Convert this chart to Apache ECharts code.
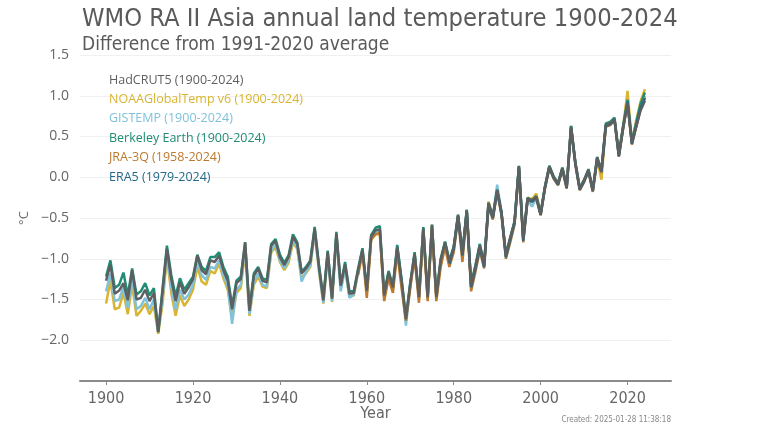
<!DOCTYPE html>
<html>
<head>
<meta charset="utf-8">
<script src="https://cdn.jsdelivr.net/npm/echarts@6/dist/echarts.min.js"></script>
<style>
html, body { margin: 0; padding: 0; background: #fff; }
#main { width: 768px; height: 445px; }
</style>
</head>
<body>
<div id="main"></div>
<script>
// annual anomalies vs 1991-2020
var hadcrut5 = [
  -1.27, -1.07, -1.43, -1.39, -1.30, -1.51, -1.14, -1.50, -1.48, -1.38,
  -1.52, -1.42, -1.90, -1.40, -0.88, -1.25, -1.52, -1.29, -1.43, -1.35,
  -1.25, -0.96, -1.14, -1.19, -1.02, -1.04, -0.96, -1.14, -1.27, -1.62,
  -1.30, -1.25, -0.80, -1.64, -1.21, -1.12, -1.27, -1.29, -0.84, -0.78,
  -0.98, -1.08, -0.98, -0.73, -0.82, -1.18, -1.12, -1.04, -0.63, -1.10,
  -1.51, -0.92, -1.49, -0.69, -1.33, -1.07, -1.43, -1.42, -1.14, -0.89,
  -1.39, -0.73, -0.65, -0.64, -1.45, -1.17, -1.35, -0.86, -1.27, -1.74,
  -1.31, -0.94, -1.47, -0.63, -1.47, -0.59, -1.47, -1.02, -0.80, -1.04,
  -0.86, -0.47, -0.94, -0.41, -1.33, -1.10, -0.84, -1.08, -0.32, -0.49,
  -0.16, -0.44, -0.96, -0.75, -0.55, 0.13, -0.76, -0.26, -0.28, -0.24,
  -0.45, -0.12, 0.13, 0.00, -0.08, 0.11, -0.12, 0.62, 0.17, -0.14,
  -0.04, 0.09, -0.16, 0.24, 0.08, 0.64, 0.66, 0.71, 0.27, 0.62,
  0.91, 0.42, 0.62, 0.82, 0.94
];
var noaa = [
  -1.55, -1.27, -1.62, -1.60, -1.42, -1.68, -1.32, -1.70, -1.64, -1.55,
  -1.68, -1.58, -1.92, -1.55, -0.98, -1.42, -1.70, -1.45, -1.58, -1.50,
  -1.38, -1.10, -1.28, -1.32, -1.15, -1.18, -1.06, -1.24, -1.38, -1.72,
  -1.42, -1.36, -0.90, -1.70, -1.32, -1.22, -1.34, -1.36, -0.92, -0.86,
  -1.04, -1.14, -1.05, -0.80, -0.88, -1.24, -1.18, -1.10, -0.68, -1.16,
  -1.55, -0.96, -1.53, -0.73, -1.36, -1.10, -1.47, -1.45, -1.16, -0.91,
  -1.40, -0.77, -0.70, -0.70, -1.48, -1.19, -1.36, -0.88, -1.28, -1.76,
  -1.33, -0.96, -1.49, -0.62, -1.49, -0.58, -1.48, -1.03, -0.80, -1.05,
  -0.86, -0.46, -0.95, -0.40, -1.34, -1.11, -0.85, -1.08, -0.30, -0.48,
  -0.15, -0.44, -0.96, -0.74, -0.56, 0.13, -0.75, -0.25, -0.27, -0.20,
  -0.44, -0.12, 0.14, 0.00, -0.08, 0.12, -0.11, 0.62, 0.18, -0.14,
  -0.05, 0.09, -0.16, 0.22, -0.03, 0.63, 0.67, 0.72, 0.29, 0.63,
  1.06, 0.43, 0.70, 0.93, 1.08
];
var gistemp = [
  -1.40, -1.18, -1.52, -1.50, -1.35, -1.60, -1.25, -1.62, -1.58, -1.48,
  -1.62, -1.50, -1.90, -1.48, -0.92, -1.35, -1.62, -1.38, -1.50, -1.44,
  -1.32, -1.02, -1.20, -1.26, -1.10, -1.12, -1.02, -1.20, -1.34, -1.80,
  -1.38, -1.32, -0.86, -1.68, -1.28, -1.18, -1.32, -1.34, -0.90, -0.82,
  -1.02, -1.12, -1.02, -0.76, -0.86, -1.28, -1.16, -1.08, -0.67, -1.14,
  -1.54, -0.95, -1.52, -0.72, -1.40, -1.12, -1.48, -1.44, -1.16, -0.90,
  -1.42, -0.75, -0.67, -0.66, -1.48, -1.18, -1.38, -0.85, -1.29, -1.82,
  -1.33, -0.95, -1.48, -0.62, -1.48, -0.60, -1.48, -1.03, -0.80, -1.05,
  -0.86, -0.47, -0.94, -0.40, -1.33, -1.09, -0.82, -1.08, -0.33, -0.48,
  -0.09, -0.43, -0.96, -0.75, -0.54, 0.14, -0.76, -0.27, -0.36, -0.26,
  -0.46, -0.12, 0.13, 0.00, -0.09, 0.11, -0.13, 0.63, 0.16, -0.15,
  -0.05, 0.08, -0.17, 0.23, 0.07, 0.64, 0.67, 0.71, 0.26, 0.61,
  0.92, 0.42, 0.65, 0.88, 1.00
];
var berkeley = [
  -1.22, -1.02, -1.36, -1.32, -1.17, -1.45, -1.12, -1.44, -1.40, -1.30,
  -1.45, -1.36, -1.90, -1.36, -0.84, -1.20, -1.46, -1.24, -1.38, -1.30,
  -1.22, -0.95, -1.10, -1.15, -0.98, -0.98, -0.92, -1.10, -1.22, -1.58,
  -1.27, -1.22, -0.80, -1.62, -1.18, -1.10, -1.24, -1.26, -0.82, -0.76,
  -0.95, -1.05, -0.96, -0.70, -0.80, -1.16, -1.10, -1.02, -0.61, -1.08,
  -1.48, -0.90, -1.47, -0.67, -1.32, -1.04, -1.40, -1.40, -1.12, -0.87,
  -1.37, -0.71, -0.62, -0.60, -1.43, -1.15, -1.33, -0.83, -1.25, -1.72,
  -1.29, -0.92, -1.45, -0.61, -1.45, -0.58, -1.45, -1.00, -0.79, -1.02,
  -0.85, -0.46, -0.93, -0.40, -1.31, -1.08, -0.82, -1.06, -0.31, -0.48,
  -0.15, -0.43, -0.95, -0.74, -0.54, 0.14, -0.75, -0.25, -0.30, -0.23,
  -0.44, -0.11, 0.14, 0.01, -0.07, 0.12, -0.11, 0.63, 0.18, -0.13,
  -0.03, 0.10, -0.15, 0.25, 0.09, 0.66, 0.68, 0.73, 0.29, 0.64,
  0.95, 0.44, 0.67, 0.90, 1.04
];
var jra3q = [
  -1.20, -0.92,
  -1.48, -0.76, -0.70, -0.68, -1.52, -1.24, -1.42, -0.92, -1.36, -1.76,
  -1.36, -0.98, -1.54, -0.66, -1.52, -0.62, -1.52, -1.10, -0.86, -1.10,
  -0.92, -0.50, -1.04, -0.44, -1.40, -1.16, -0.90, -1.12, -0.36, -0.52,
  -0.18, -0.47, -1.00, -0.80, -0.58, 0.10, -0.80, -0.28, -0.30, -0.26,
  -0.47, -0.14, 0.11, -0.02, -0.10, 0.09, -0.14, 0.60, 0.15, -0.16,
  -0.06, 0.07, -0.18, 0.21, 0.05, 0.62, 0.64, 0.70, 0.25, 0.60,
  0.90, 0.40, 0.62, 0.84, 0.98
];
var era5 = [
  -1.06,
  -0.88, -0.48, -0.96, -0.42, -1.35, -1.12, -0.86, -1.10, -0.34, -0.50,
  -0.17, -0.45, -0.98, -0.77, -0.56, 0.12, -0.78, -0.27, -0.30, -0.25,
  -0.46, -0.13, 0.12, -0.01, -0.09, 0.10, -0.13, 0.61, 0.16, -0.15,
  -0.05, 0.08, -0.17, 0.22, 0.07, 0.63, 0.65, 0.70, 0.26, 0.61,
  0.92, 0.41, 0.63, 0.85, 0.97
];
var startYears = { hadcrut5: 1900, noaa: 1900, gistemp: 1900, berkeley: 1900, jra3q: 1958, era5: 1979 };
var names = {
  hadcrut5: 'HadCRUT5 (1900-2024)',
  noaa: 'NOAAGlobalTemp v6 (1900-2024)',
  gistemp: 'GISTEMP (1900-2024)',
  berkeley: 'Berkeley Earth (1900-2024)',
  jra3q: 'JRA-3Q (1958-2024)',
  era5: 'ERA5 (1979-2024)'
};
var yearTicks = [1900, 1920, 1940, 1960, 1980, 2000, 2020];

var colors = {
  hadcrut5: '#5d5f60',
  noaa: '#d9b430',
  gistemp: '#7fc2da',
  berkeley: '#1f8c74',
  jra3q: '#bb7a2e',
  era5: '#23698a'
};
var values = { hadcrut5: hadcrut5, noaa: noaa, gistemp: gistemp, berkeley: berkeley, jra3q: jra3q, era5: era5 };
var legendOrder = ['hadcrut5', 'noaa', 'gistemp', 'berkeley', 'jra3q', 'era5'];
var drawOrder = ['noaa', 'gistemp', 'berkeley', 'jra3q', 'era5', 'hadcrut5'];

function toPairs(start, vals) {
  return vals.map(function (v, i) { return [start + i, v]; });
}

var narrow = "'Liberation Sans Narrow', 'DejaVu Sans Condensed', sans-serif";
var plain = "'Open Sans', sans-serif";

var myChart = echarts.init(document.getElementById('main'));

option = {
  animation: false,
  backgroundColor: '#fff',
  title: {
    left: 82,
    top: 7,
    padding: 0,
    itemGap: 4,
    text: 'WMO RA II Asia annual land temperature 1900-2024',
    subtext: 'Difference from 1991-2020 average',
    textStyle: { fontFamily: narrow, fontSize: 25.3, fontWeight: 'normal', color: '#5a5a5a' },
    subtextStyle: { fontFamily: narrow, fontSize: 19, color: '#5a5a5a' }
  },
  legend: {
    orient: 'vertical',
    left: 99,
    top: 68,
    icon: 'none',
    itemWidth: 0,
    itemHeight: 14,
    itemGap: 5.4,
    selectedMode: false,
    textStyle: { fontFamily: plain, fontSize: 12.5, lineHeight: 14 },
    data: legendOrder.map(function (k) {
      return { name: names[k], textStyle: { color: colors[k] } };
    })
  },
  grid: { left: 80, right: 97, top: 55, bottom: 64 },
  xAxis: {
    type: 'value',
    min: 1894,
    max: 2030,
    name: 'Year',
    nameLocation: 'middle',
    nameGap: 25,
    nameMoveOverlap: false,
    nameTextStyle: { fontFamily: narrow, fontSize: 16, color: '#666' },
    splitLine: { show: false },
    axisLine: { onZero: false, lineStyle: { color: '#8a8a8a', width: 2 } },
    axisTick: { customValues: yearTicks, length: 4, lineStyle: { color: '#8a8a8a' } },
    axisLabel: {
      customValues: yearTicks,
      margin: 10,
      fontFamily: narrow,
      fontSize: 16,
      color: '#666',
      formatter: function (v) { return String(v); }
    }
  },
  yAxis: {
    type: 'value',
    min: -2.5,
    max: 1.5,
    interval: 0.5,
    name: '°C',
    nameLocation: 'middle',
    nameGap: 48,
    nameTextStyle: { fontFamily: plain, fontSize: 13, color: '#666' },
    axisLine: { show: false },
    axisTick: { show: false },
    splitLine: { lineStyle: { color: '#f0f0f0', width: 1 } },
    axisLabel: {
      margin: 11,
      fontFamily: plain,
      fontSize: 14,
      color: '#666',
      formatter: function (v) {
        if (v <= -2.5) return '';
        return (v < 0 ? '\u2212' : '') + Math.abs(v).toFixed(1);
      }
    }
  },
  graphic: [{
    type: 'text',
    right: 97,
    top: 416,
    style: {
      text: 'Created: 2025-01-28 11:38:18',
      fontFamily: narrow,
      fontSize: 8,
      fill: '#888'
    }
  }],
  series: drawOrder.map(function (k) {
    return {
      name: names[k],
      type: 'line',
      showSymbol: false,
      symbol: 'none',
      color: colors[k],
      lineStyle: { width: 2.5, color: colors[k] },
      data: toPairs(startYears[k], values[k])
    };
  })
};

myChart.setOption(option);
</script>
</body>
</html>
